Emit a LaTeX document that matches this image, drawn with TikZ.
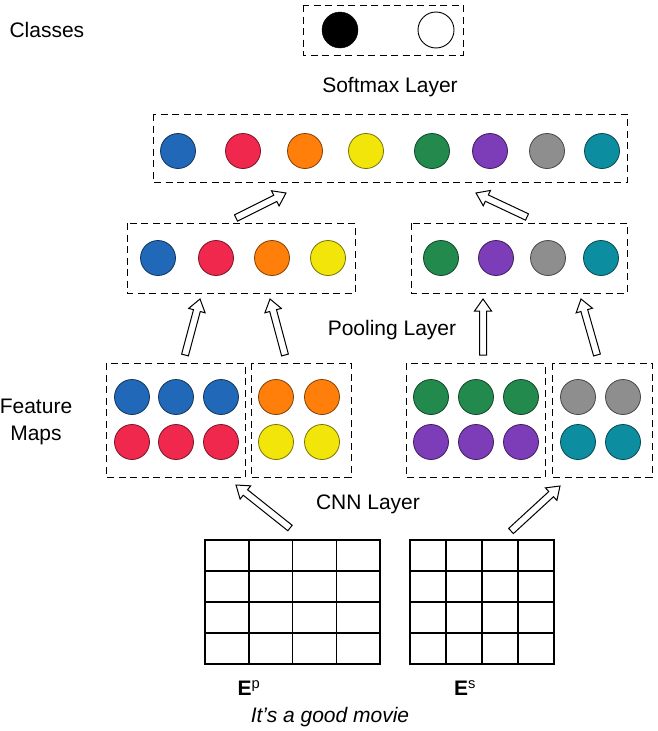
\documentclass[tikz,border=0pt]{standalone}
\usepackage{fontspec}
\setmainfont{Liberation Sans}
\usetikzlibrary{calc}
\definecolor{cb}{HTML}{2268B8}\definecolor{cr}{HTML}{F0284E}\definecolor{co}{HTML}{FF7F0A}
\definecolor{cy}{HTML}{F2E50A}\definecolor{cg}{HTML}{238A4E}\definecolor{cp}{HTML}{7D3CB8}
\definecolor{cgr}{HTML}{8E8E8E}\definecolor{ct}{HTML}{0D8EA0}
\newcommand\harrow[2]{\draw[line width=1pt,fill=white,line join=miter] let \p1=($(#2)-(#1)$), \n1={atan2(\y1,\x1)}, \n2={veclen(\x1,\y1)} in
  [shift={(#1)},rotate=\n1] (0pt,-3.5pt) -- (\n2-12pt,-3.5pt) -- (\n2-12pt,-8.5pt) -- (\n2,0pt) -- (\n2-12pt,8.5pt) -- (\n2-12pt,3.5pt) -- (0pt,3.5pt) -- cycle;}
\begin{document}
\begin{tikzpicture}[x=1pt,y=-1pt,
 box/.style={draw,dashed,dash pattern=on 7pt off 4.5pt,line width=1pt},
 c/.style={circle,minimum size=35pt,inner sep=0,draw=#1!50!black,fill=#1,line width=0.8pt},
 lab/.style={font=\fontsize{21}{27}\selectfont}]
\useasboundingbox (0,0) rectangle (657,731);
\node[lab,anchor=west] (cls) at (6,30) {Classes};
\draw[box] (303,5) rectangle (463,55);
\node[circle,minimum size=36pt,inner sep=0,fill=black,draw=black] (k1) at (340,30) {};
\node[circle,minimum size=36pt,inner sep=0,fill=white,draw=black,line width=0.9pt] (k2) at (436,30) {};
\node[lab] (sm) at (390,87) {Softmax Layer};
\draw[box] (153,114) rectangle (627,182);
\foreach \x/\col [count=\i] in {178/cb,243/cr,305/co,366/cy,432/cg,490/cp,547/cgr,602/ct}
  \node[c=\col] (s\i) at (\x,151) {};
\draw[box] (127,223) rectangle (355,293);
\draw[box] (411,223) rectangle (627,293);
\foreach \x/\col [count=\i] in {158/cb,216/cr,272/co,328/cy,441/cg,496/cp,548/cgr,601/ct}
  \node[c=\col] (p\i) at (\x,258) {};
\node[lab] (pl) at (392,330) {Pooling Layer};
\node[lab,align=center] (fm) at (36,422) {Feature\\Maps};
\draw[box] (106,363) rectangle (245,477);
\draw[box] (251,363) rectangle (351,477);
\draw[box] (406,363) rectangle (545,477);
\draw[box] (552,363) rectangle (652,477);
\foreach \x in {132,176,221}{\node[c=cb] at (\x,397) {};\node[c=cr] at (\x,442) {};}
\foreach \x in {276,322}{\node[c=co] at (\x,397) {};\node[c=cy] at (\x,442) {};}
\foreach \x in {431,476,521}{\node[c=cg] at (\x,397) {};\node[c=cp] at (\x,442) {};}
\foreach \x in {578,623}{\node[c=cgr] at (\x,397) {};\node[c=ct] at (\x,442) {};}
\node[lab] (cnn) at (368,504) {CNN Layer};
\draw[line width=1.5pt] (205,540) rectangle (380,664);
\foreach \i in {1,2,3}{\draw[line width=1.5pt] (205+\i*43.75,540) -- (205+\i*43.75,664);
  \draw[line width=1.5pt] (205,540+\i*31) -- (380,540+\i*31);}
\draw[line width=1.5pt] (410,540) rectangle (554,664);
\foreach \i in {1,2,3}{\draw[line width=1.5pt] (410+\i*36,540) -- (410+\i*36,664);
  \draw[line width=1.5pt] (410,540+\i*31) -- (554,540+\i*31);}
\node[lab] (ep) at (249,688) {\textbf{E}\textsuperscript{p}};
\node[lab] (es) at (465,688) {\textbf{E}\textsuperscript{s}};
\node[lab,font=\fontsize{21}{25}\selectfont\itshape] (mv) at (330,717) {It’s a good movie};
\coordinate (a1) at (236,218); \coordinate (b1) at (286,193);
\coordinate (a2) at (527,217); \coordinate (b2) at (476,193);
\coordinate (a3) at (185,355); \coordinate (b3) at (200,299);
\coordinate (a4) at (285,355); \coordinate (b4) at (270,299);
\coordinate (a5) at (483,355); \coordinate (b5) at (483,299);
\coordinate (a6) at (597,355); \coordinate (b6) at (581,299);
\coordinate (a7) at (290,528); \coordinate (b7) at (236,485);
\coordinate (a8) at (511,531); \coordinate (b8) at (560,486);
\foreach \i in {1,...,8}{\harrow{a\i}{b\i}}
\end{tikzpicture}
\end{document}
